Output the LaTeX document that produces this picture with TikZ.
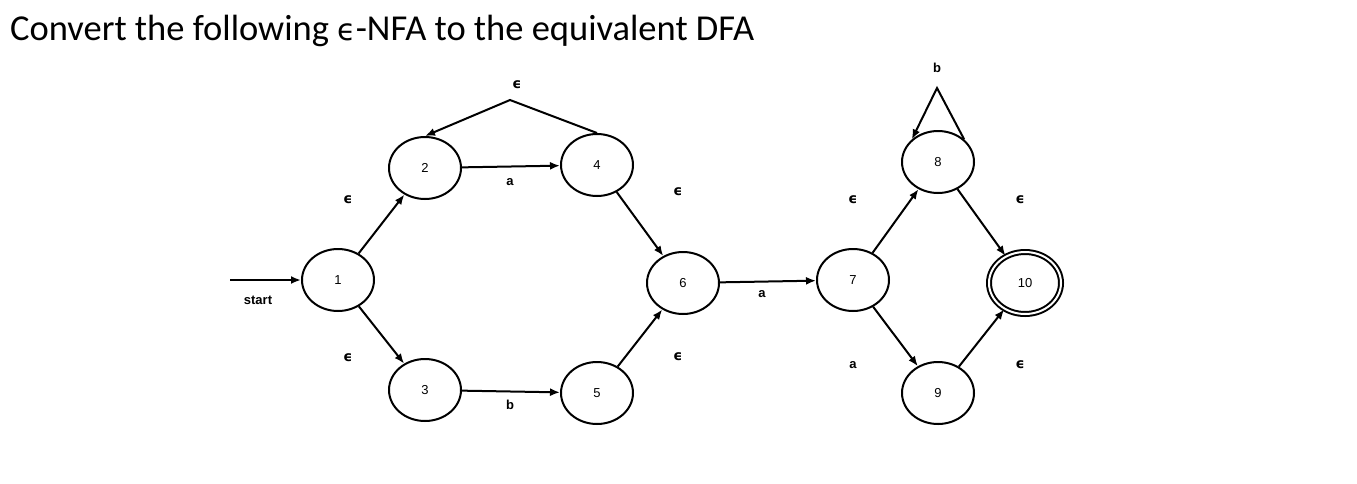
\documentclass[tikz,border=0pt]{standalone}
\usepackage{fontspec}
\setmainfont{Carlito}
\newfontfamily\dvs{DejaVu Sans}
\usetikzlibrary{shapes.geometric,arrows.meta}
\begin{document}
\begin{tikzpicture}[x=1pt,y=-1pt,
 st/.style={draw,ellipse,line width=2pt,minimum width=72pt,minimum height=62pt,inner sep=0pt,font=\fontspec{Liberation Sans}\fontsize{13}{15}\selectfont},
 ar/.style={line width=2pt,-{Latex[length=10pt,width=8pt]}},
 lb/.style={font=\fontspec{Liberation Sans}\bfseries\fontsize{13}{15}\selectfont},
 ep/.style={font=\dvs\bfseries\fontsize{14}{16}\selectfont}]
\useasboundingbox (0,0) rectangle (1357,483);
\node[anchor=base west,font=\fontsize{36.5}{42}\selectfont,inner sep=0pt] (title) at (10,40) {Convert the following {\fontsize{30}{36}\dvs ϵ}-NFA to the equivalent DFA};
\node[st] (n1) at (338,280) {1};
\node[st] (n2) at (425,168) {2};
\node[st] (n3) at (425,390) {3};
\node[st] (n4) at (597,165) {4};
\node[st] (n5) at (597,393) {5};
\node[st] (n6) at (683,283) {6};
\node[st] (n7) at (853,280) {7};
\node[st] (n8) at (938,162) {8};
\node[st] (n9) at (938,393) {9};
\node[st,double,double distance=2pt] (n10) at (1025,283) {10};
\coordinate (s) at (230,280);
\draw[ar] (s) -- (n1);
\node[lb] (lstart) at (258,300) {start};
\draw[ar] (n1) -- (n2); \node[ep] at (348,200) {ϵ};
\draw[ar] (n1) -- (n3); \node[ep] at (348,358) {ϵ};
\draw[ar] (n2) -- (n4); \node[lb] at (510,182) {a};
\draw[ar] (n3) -- (n5); \node[lb] at (510,405) {b};
\draw[ar] (n4) -- (n6); \node[ep] at (678,192) {ϵ};
\draw[ar] (n5) -- (n6); \node[ep] at (678,357) {ϵ};
\draw[ar] (n6) -- (n7); \node[lb] at (762,294) {a};
\draw[ar] (n7) -- (n8); \node[ep] at (853,200) {ϵ};
\draw[ar] (n7) -- (n9); \node[lb] at (853,365) {a};
\draw[ar] (n8) -- (n10); \node[ep] at (1020,200) {ϵ};
\draw[ar] (n9) -- (n10); \node[ep] at (1020,365) {ϵ};
\coordinate (p4) at (510,100);
\draw[ar] (n4.north) -- (p4) -- (n2.north); \node[ep] at (517,85) {ϵ};
\coordinate (p8) at (937,88);
\draw[ar] (n8.north east) -- (p8) -- (n8.north west); \node[lb] at (937,68) {b};
\end{tikzpicture}
\end{document}
